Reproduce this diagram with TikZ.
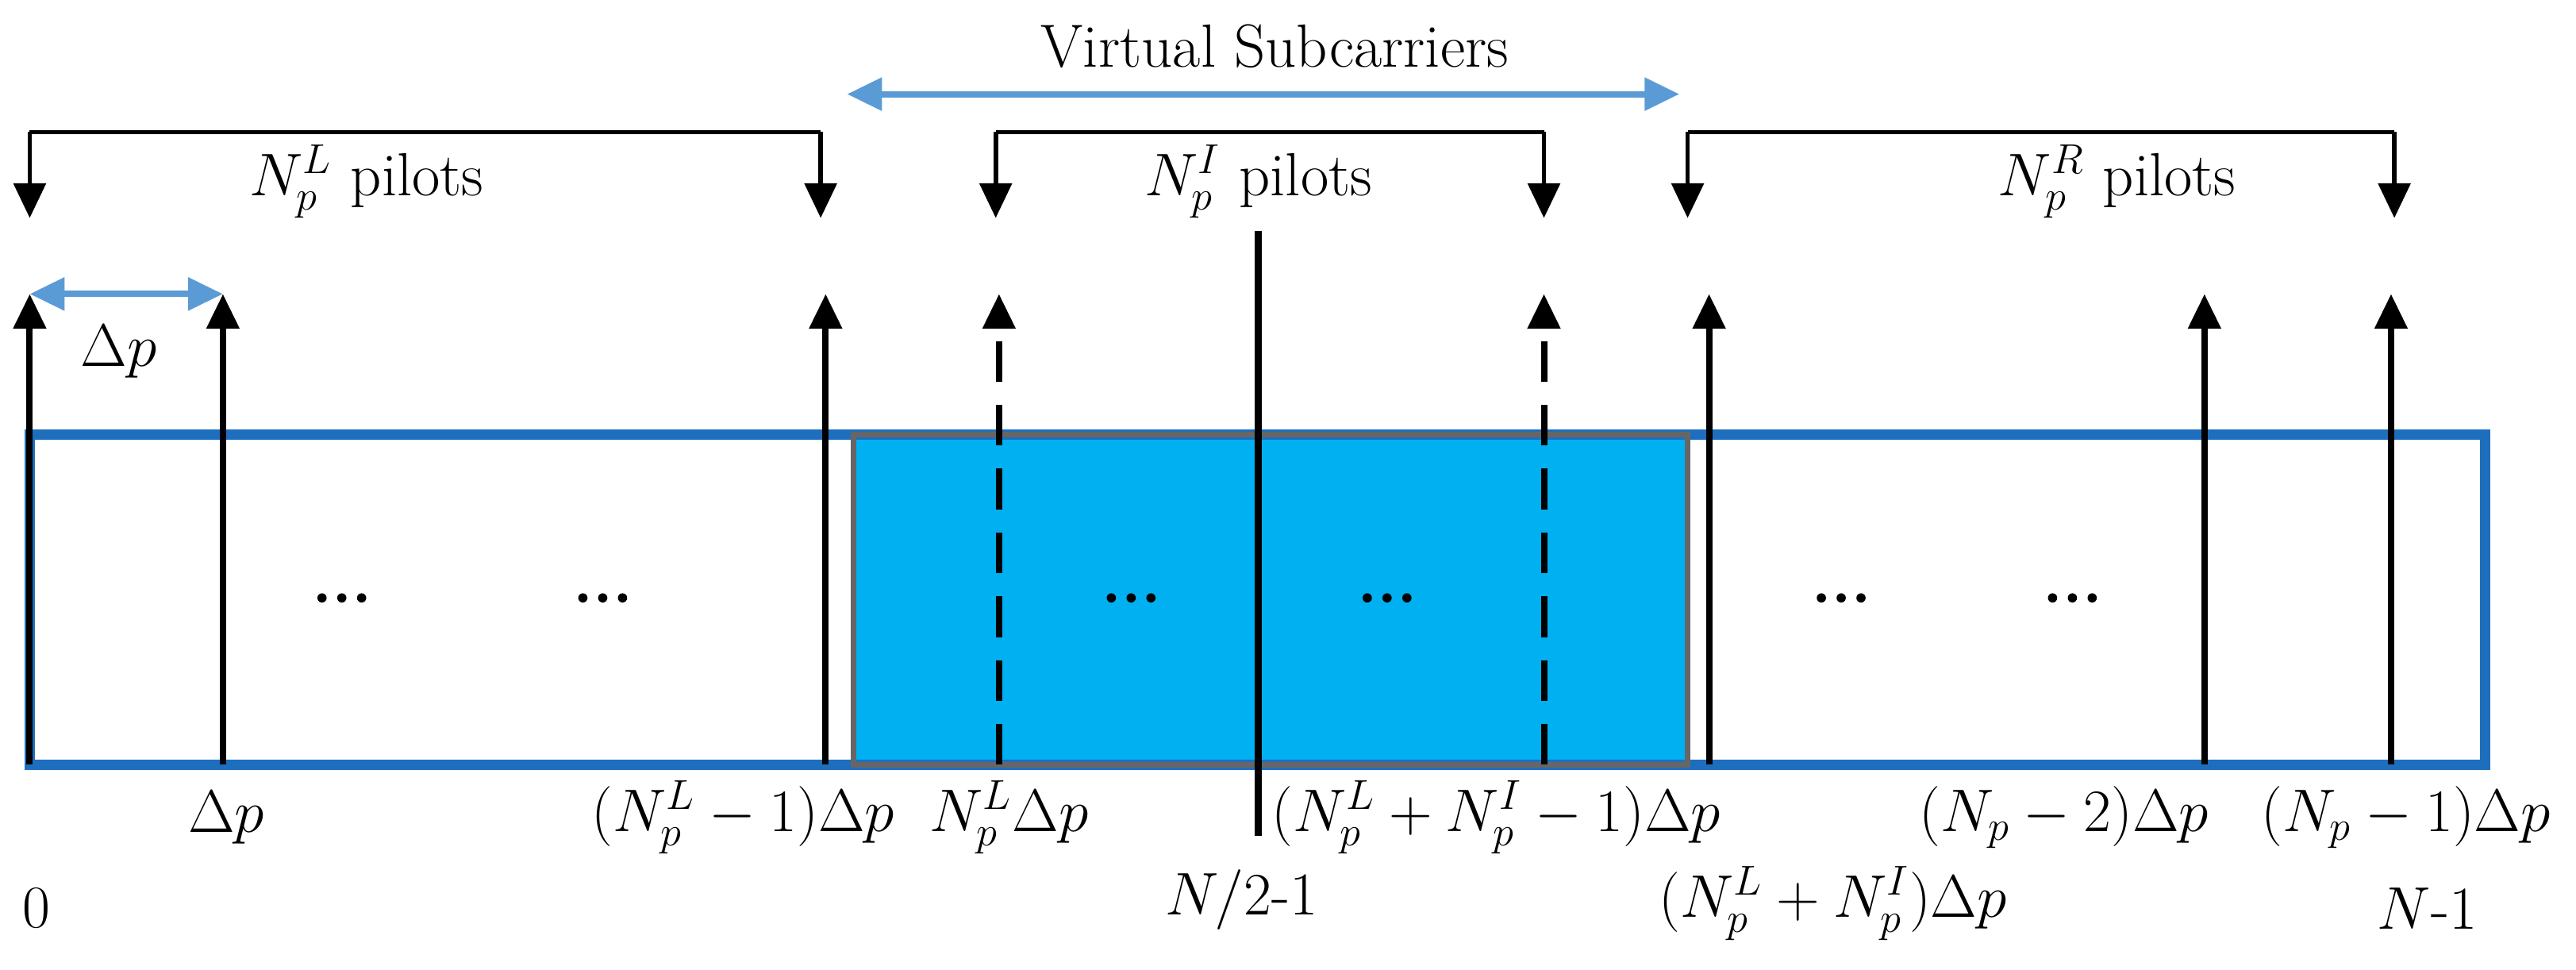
\documentclass[tikz,border=0pt]{standalone}
\usetikzlibrary{arrows.meta}
\definecolor{frameblue}{RGB}{30,110,190}
\definecolor{lightblue}{RGB}{91,155,213}
\definecolor{cyanfill}{RGB}{0,176,240}
\begin{document}
\begin{tikzpicture}[x=0.02cm,y=-0.02cm,
  lbl/.style={font=\fontsize{21}{25}\selectfont,inner sep=1pt},
  uparr/.style={line width=2.2pt,-{Triangle[length=12pt,width=11pt]}},
  dnarr/.style={line width=1.6pt,-{Triangle[length=12pt,width=11pt]}},
  barr/.style={lightblue,line width=2.2pt,{Triangle[length=12pt,width=11pt]}-{Triangle[length=12pt,width=11pt]}}]
\useasboundingbox (0,0) rectangle (1560,587);
\fill[cyanfill] (517,263) rectangle (1022,463);
\draw[frameblue,line width=3.5pt] (18,263) rectangle (1505,463);
\draw[gray!80!black,line width=2pt] (517,263) rectangle (1022,463);
\foreach \n/\x in {a/18,b/135,c/500,d/605,e/935,f/1035,g/1335,h/1448}{
  \coordinate (\n0) at (\x,463); \coordinate (\n1) at (\x,178);}
\foreach \n in {a,b,c,f,g,h} \draw[uparr] (\n0) -- (\n1);
\foreach \n in {d,e} \draw[uparr,dash pattern=on 14pt off 8pt] (\n0) -- (\n1);
\coordinate (m0) at (762,140); \coordinate (m1) at (762,506);
\draw[line width=2.4pt] (m0) -- (m1);
\foreach \xa/\xb in {18/497,603/935,1022/1450}{
  \draw[line width=1.6pt] (\xa,80) -- (\xb,80);
  \coordinate (t1) at (\xa,80); \coordinate (t2) at (\xb,80);
  \coordinate (s1) at (\xa,132); \coordinate (s2) at (\xb,132);
  \draw[dnarr] (t1) -- (s1); \draw[dnarr] (t2) -- (s2);}
\node[lbl] (pl) at (222,110) {$N_p^L$ pilots};
\node[lbl] (pi) at (762,110) {$N_p^I$ pilots};
\node[lbl] (pr) at (1282,110) {$N_p^R$ pilots};
\coordinate (v0) at (513,57); \coordinate (v1) at (1017,57);
\draw[barr] (v0) -- (v1);
\node[lbl] (vs) at (772,28) {Virtual Subcarriers};
\coordinate (dp0) at (18,178); \coordinate (dp1) at (135,178);
\draw[barr] (dp0) -- (dp1);
\node[lbl] (dpl) at (72,213) {$\Delta p$};
\foreach \x in {207,365,685,840,1115,1255}
  \foreach \d in {-12,0,12} \fill (\x+\d,362) circle (2.8);
\node[lbl] (l1) at (137,495) {$\Delta p$};
\node[lbl] (l2) at (450,495) {$(N_p^L-1)\Delta p$};
\node[lbl] (l3) at (611,495) {$N_p^L\Delta p$};
\node[lbl] (l4) at (906,495) {$(N_p^L+N_p^I-1)\Delta p$};
\node[lbl] (l5) at (1250,495) {$(N_p-2)\Delta p$};
\node[lbl] (l6) at (1457,495) {$(N_p-1)\Delta p$};
\node[lbl] (l7) at (22,550) {$0$};
\node[lbl] (l8) at (752,545) {$N/2$-1};
\node[lbl] (l9) at (1110,547) {$(N_p^L+N_p^I)\Delta p$};
\node[lbl] (l10) at (1470,550) {$N$-1};
\end{tikzpicture}
\end{document}
